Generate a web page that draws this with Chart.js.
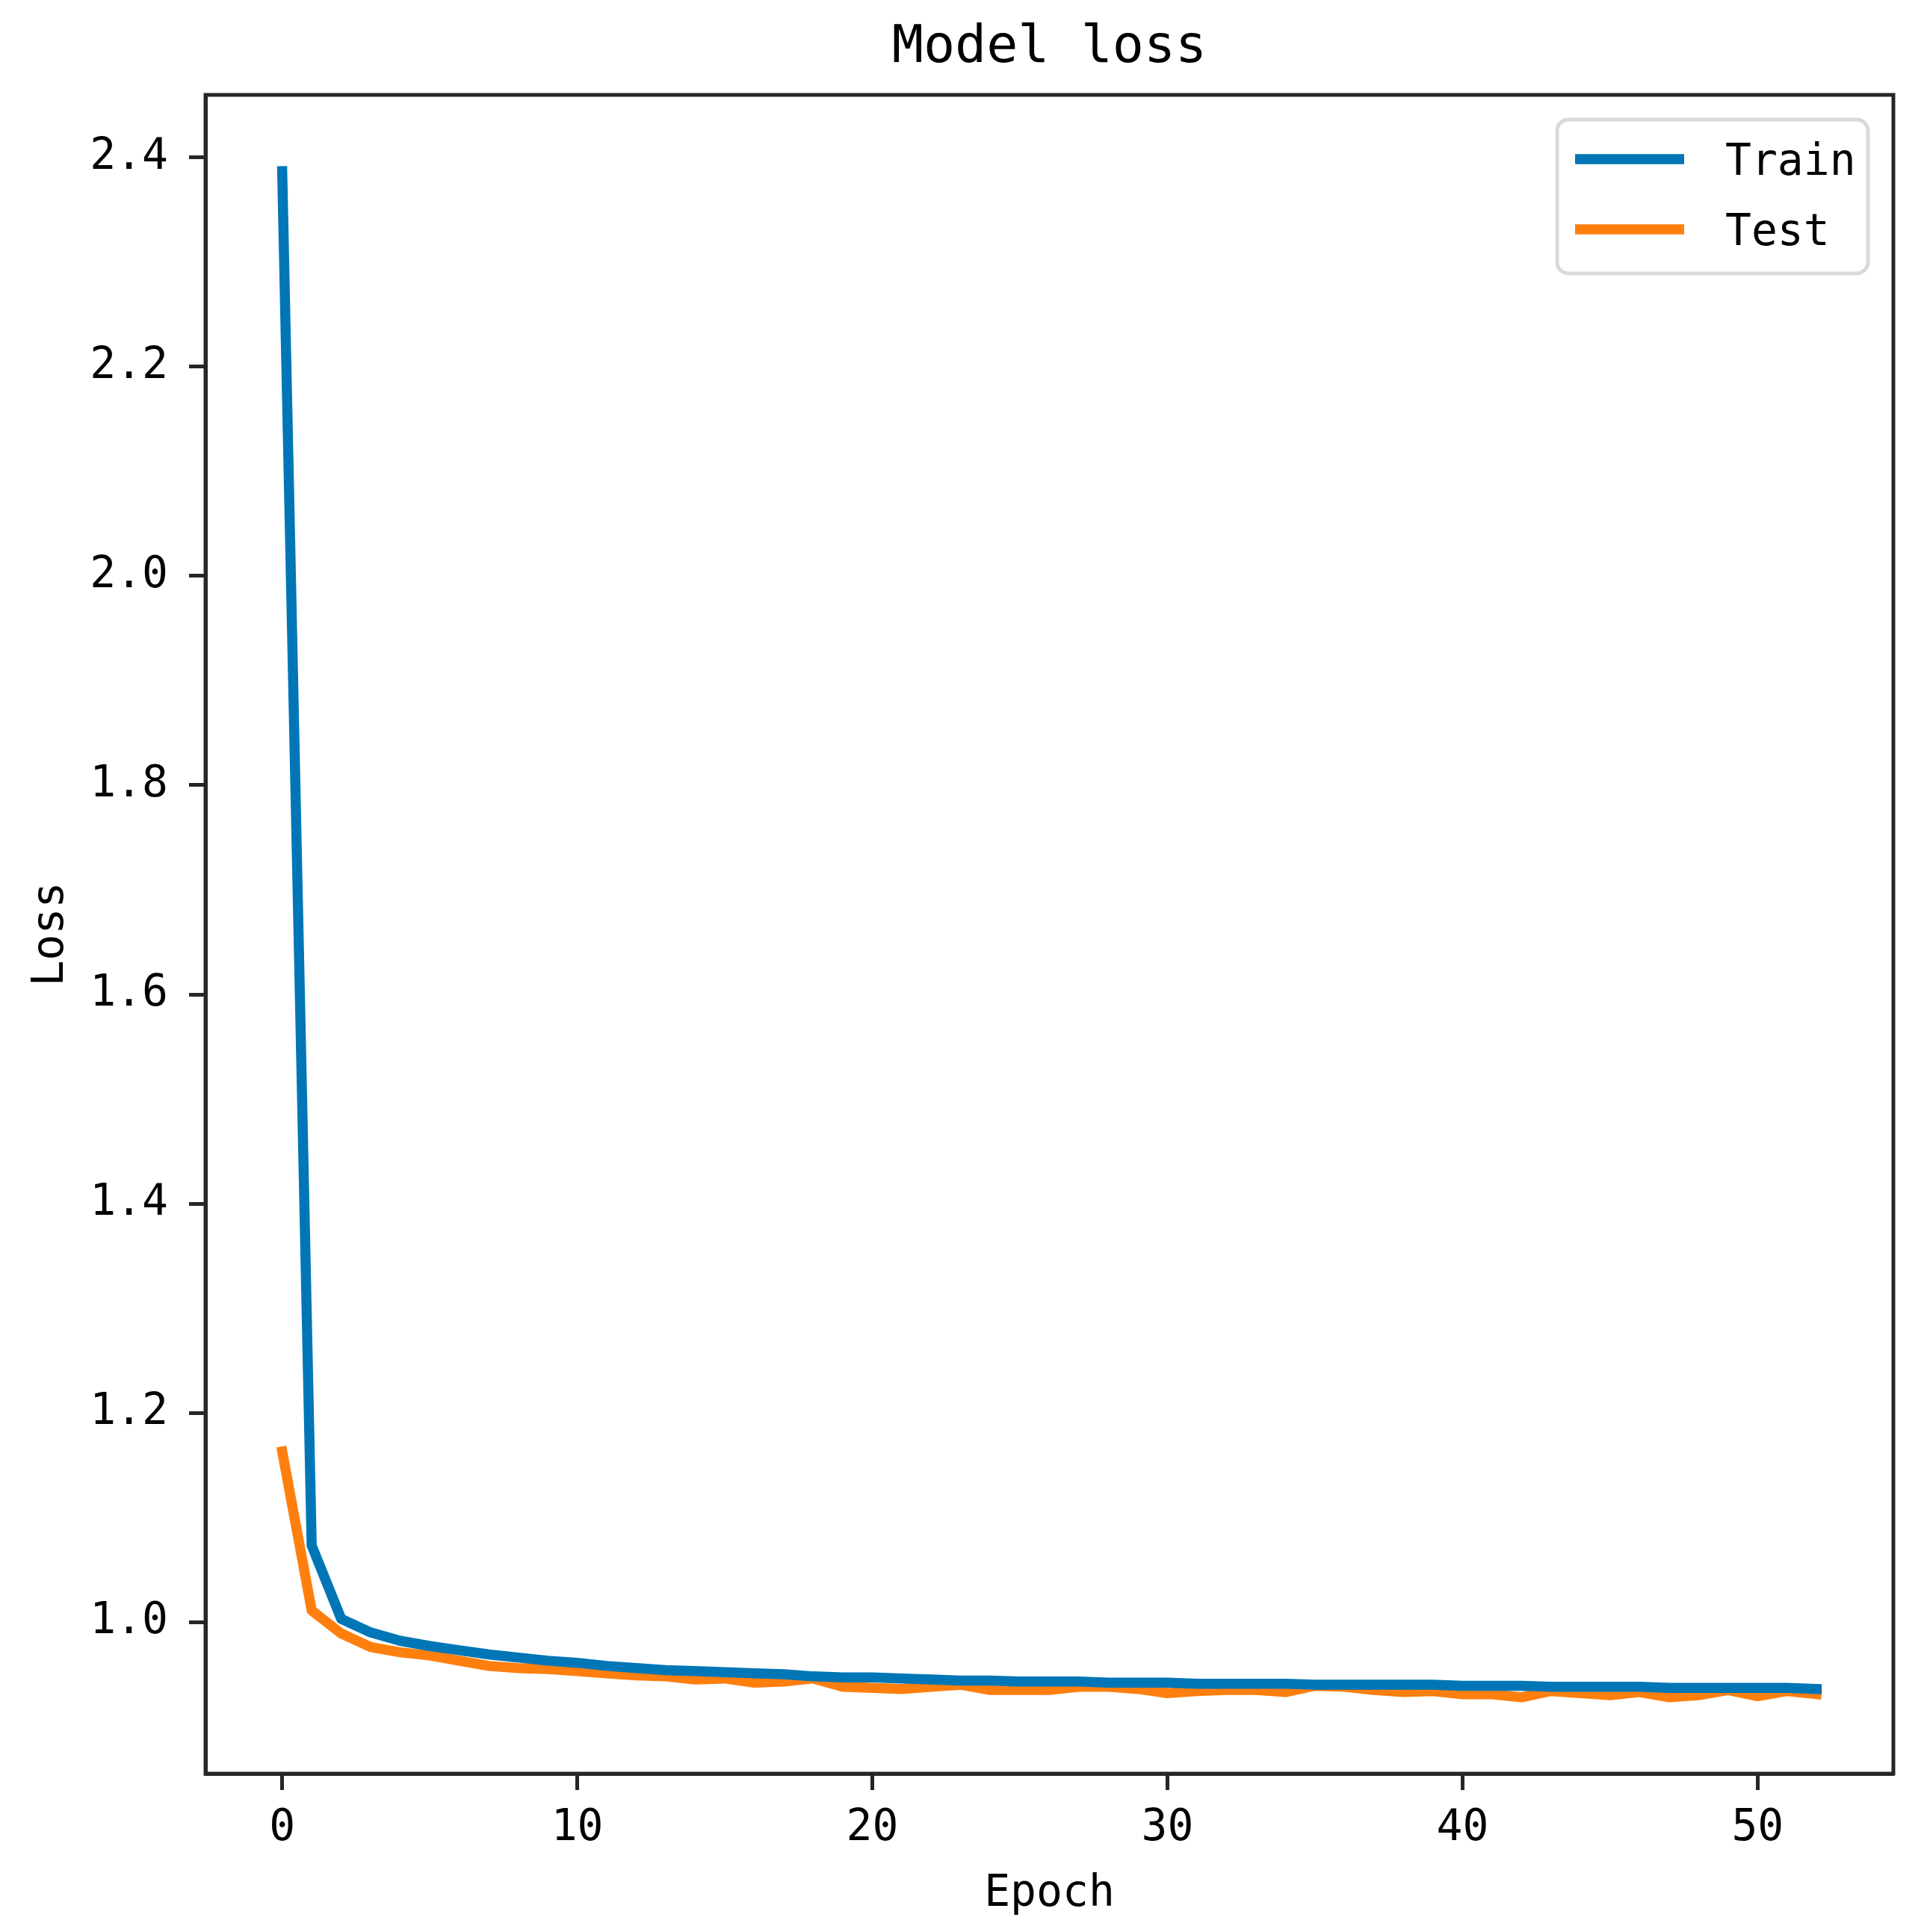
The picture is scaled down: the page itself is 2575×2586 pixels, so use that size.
<!DOCTYPE html>
<html>
<head>
<meta charset="utf-8">
<script src="https://cdn.jsdelivr.net/npm/chart.js@4.4.1/dist/chart.umd.min.js"></script>
<style>
  html, body { margin: 0; padding: 0; background: #ffffff; }
  #wrap { width: 2575px; height: 2586px; }
</style>
</head>
<body>
<div id="wrap"><canvas id="c" width="2575" height="2586"></canvas></div>
<script>
// ---- data ----
const epochs = [0,1,2,3,4,5,6,7,8,9,10,11,12,13,14,15,16,17,18,19,20,21,22,23,24,25,26,27,28,29,30,31,32,33,34,35,36,37,38,39,40,41,42,43,44,45,46,47,48,49,50,51,52];
const trainLoss = [2.387,1.073,1.003,0.990,0.982,0.977,0.973,0.969,0.966,0.963,0.961,0.958,0.956,0.954,0.953,0.952,0.951,0.950,0.948,0.947,0.947,0.946,0.945,0.944,0.944,0.943,0.943,0.943,0.942,0.942,0.942,0.941,0.941,0.941,0.941,0.940,0.940,0.940,0.940,0.940,0.939,0.939,0.939,0.938,0.938,0.938,0.938,0.937,0.937,0.937,0.937,0.937,0.936];
const testLoss = [1.163,1.011,0.989,0.976,0.971,0.968,0.963,0.958,0.956,0.955,0.953,0.951,0.949,0.948,0.945,0.946,0.942,0.943,0.946,0.938,0.937,0.936,0.938,0.940,0.935,0.935,0.935,0.938,0.938,0.936,0.932,0.934,0.935,0.935,0.933,0.939,0.938,0.935,0.933,0.934,0.931,0.931,0.928,0.934,0.932,0.930,0.933,0.928,0.930,0.935,0.929,0.934,0.931];
const seriesLabels = ['Train', 'Test'];
const xTicks = [0,10,20,30,40,50];
const yTicks = [1.0,1.2,1.4,1.6,1.8,2.0,2.2,2.4];
const titleText = 'Model loss';
const xTitle = 'Epoch';
const yTitle = 'Loss';

// matplotlib-like autoscale (5% margins)
const allY = trainLoss.concat(testLoss);
const yLo = Math.min(...allY), yHi = Math.max(...allY);
const yPad = 0.05 * (yHi - yLo);
const xLo = Math.min(...epochs), xHi = Math.max(...epochs);
const xPad = 0.05 * (xHi - xLo);

const FONT = '"DejaVu Sans Mono", "Liberation Mono", monospace';
const INK = '#262626';

const frame = {
  id: 'frame',
  afterDatasetsDraw(chart) {
    const {ctx, chartArea: a} = chart;
    ctx.save();
    ctx.strokeStyle = INK;
    ctx.lineWidth = 5;
    ctx.strokeRect(a.left, a.top, a.right - a.left, a.bottom - a.top);
    ctx.restore();
  }
};

const legendBox = {
  id: 'legendBox',
  afterDraw(chart) {
    const {ctx, chartArea: a} = chart;
    const ds = chart.data.datasets;
    const w = 416, h = 206;
    const x = a.right - 34 - w, y = a.top + 33;
    ctx.save();
    ctx.beginPath();
    ctx.roundRect(x, y, w, h, 15);
    ctx.fillStyle = 'rgba(255,255,255,0.8)';
    ctx.fill();
    ctx.lineWidth = 5;
    ctx.strokeStyle = '#d9d9d9';
    ctx.stroke();
    ds.forEach((d, i) => {
      const cy = y + 53 + i * 94;
      ctx.strokeStyle = d.borderColor;
      ctx.lineWidth = d.borderWidth;
      ctx.lineCap = 'butt';
      ctx.beginPath();
      ctx.moveTo(x + 24, cy);
      ctx.lineTo(x + 170, cy);
      ctx.stroke();
      ctx.fillStyle = '#000';
      ctx.font = '58px ' + FONT;
      ctx.textBaseline = 'middle';
      ctx.textAlign = 'left';
      ctx.fillText(d.label, x + 225, cy + 6);
    });
    ctx.restore();
  }
};

const mk = (arr) => epochs.map((e, i) => ({x: e, y: arr[i]}));

new Chart(document.getElementById('c'), {
  type: 'line',
  data: {
    datasets: [
      { label: seriesLabels[0], data: mk(trainLoss), borderColor: '#0076b6', borderWidth: 13.5,
        pointRadius: 0, tension: 0, fill: false, borderCapStyle: 'square', borderJoinStyle: 'round' },
      { label: seriesLabels[1], data: mk(testLoss), borderColor: '#ff7f0e', borderWidth: 13.5,
        pointRadius: 0, tension: 0, fill: false, borderCapStyle: 'square', borderJoinStyle: 'round' }
    ]
  },
  options: {
    responsive: false,
    animation: false,
    devicePixelRatio: 1,
    layout: { padding: { left: 0, right: 41, top: 0, bottom: 0 } },
    plugins: {
      legend: { display: false },
      tooltip: { enabled: false },
      title: {
        display: true, text: titleText, fullSize: false, color: '#000',
        font: { family: FONT, size: 70, weight: 'normal', lineHeight: 1.2 },
        padding: { top: 23, bottom: 20 }
      }
    },
    scales: {
      x: {
        type: 'linear', min: xLo - xPad, max: xHi + xPad,
        afterBuildTicks: (s) => { s.ticks = xTicks.map(v => ({value: v})); },
        afterFit: (s) => { s.height = 212; },
        grid: { display: true, drawOnChartArea: false, drawTicks: true, tickLength: 22, tickWidth: 5, tickColor: INK, color: INK },
        border: { display: true, color: INK, width: 5 },
        ticks: { color: '#000', padding: 17, maxRotation: 0, autoSkip: false,
          font: { family: FONT, size: 58 }, callback: (v) => String(v) },
        title: { display: true, text: xTitle, color: '#000',
          font: { family: FONT, size: 58, lineHeight: 1.2 }, padding: { top: 0, bottom: 15 } }
      },
      y: {
        type: 'linear', min: yLo - yPad, max: yHi + yPad,
        afterBuildTicks: (s) => { s.ticks = yTicks.map(v => ({value: v})); },
        afterFit: (s) => { s.width = 275; },
        grid: { display: true, drawOnChartArea: false, drawTicks: true, tickLength: 22, tickWidth: 5, tickColor: INK, color: INK },
        border: { display: true, color: INK, width: 5 },
        ticks: { color: '#000', padding: 28, autoSkip: false,
          font: { family: FONT, size: 58 }, callback: (v) => Number(v).toFixed(1) },
        title: { display: true, text: yTitle, color: '#000',
          font: { family: FONT, size: 58, lineHeight: 1.2 }, padding: { top: 34, bottom: 0 } }
      }
    }
  },
  plugins: [frame, legendBox]
});
</script>
</body>
</html>
